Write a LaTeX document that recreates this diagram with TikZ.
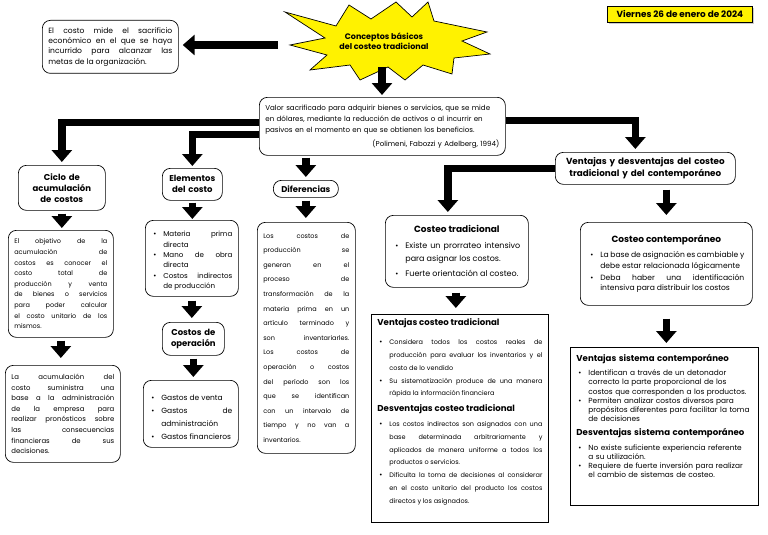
\documentclass[tikz,border=0pt]{standalone}
\usepackage{fontspec}
\setmainfont{Poppins}
\usetikzlibrary{arrows.meta,shadows}
\newcommand\myitem{\par\hangindent=12pt\hangafter=1\noindent\hbox to 12pt{\hskip2pt{\fontsize{7.4}{8}\selectfont\textbullet}\hfil}}
\newcommand\myhead[2]{\par\noindent\hbox{\bfseries\fontsize{#1}{11}\selectfont #2}\par}
\begin{document}
\begin{tikzpicture}[x=1pt,y=-1pt,
  every node/.style={inner sep=0pt},
  rbox/.style={draw, line width=0.7pt, rounded corners=8pt, anchor=north west, inner xsep=6pt, inner ysep=3pt, align=justify},
  sbox/.style={draw, line width=0.9pt, anchor=north west, inner xsep=6pt, inner ysep=3pt},
  ttl/.style={rbox, align=center, font=\bfseries\fontsize{8.5}{11}\selectfont},
  fat/.style={line width=7.5pt, line join=miter, -{Triangle[width=20pt,length=12pt]}}
]
\useasboundingbox (0,0) rectangle (768,535);

% date
\node[draw, fill=yellow, line width=0.8pt, anchor=north west, minimum width=145pt, minimum height=16pt,
  drop shadow={shadow xshift=1.2pt, shadow yshift=-1.2pt, opacity=0.4},
  font=\bfseries\fontsize{8.9}{10}\selectfont] (date) at (607,6) {Viernes 26 de enero de 2024};

% star
\draw[fill=yellow, line width=0.7pt] (285,12) -- (336,26) -- (349,5) -- (371,19) -- (396,2) -- (412,17)
  -- (428,2) -- (434,21) -- (487,32) -- (462,41) -- (490,54) -- (454,58) -- (452,74) -- (423,65)
  -- (405,80) -- (388,67) -- (360,80) -- (350,65) -- (310,70) -- (327,55) -- (290,45) -- (325,38) -- cycle;
\node[font=\bfseries\fontsize{8}{10.5}\selectfont, align=center] (star) at (384,41) {Conceptos básicos\\del costeo tradicional};
\coordinate (starL) at (278,45);
\coordinate (starB) at (382,67);

% left top
\node[rbox, text width=124pt, minimum height=53pt, font=\fontsize{7.6}{10.4}\selectfont] (costo) at (42,20)
  {El costo mide el sacrificio\linebreak económico en el que se haya\linebreak incurrido para alcanzar las\linebreak metas de la organización.};

% valor
\node[rbox, align=left, text width=234pt, minimum height=58pt, font=\fontsize{7.1}{11}\selectfont] (valor) at (259,97)
  {Valor sacrificado para adquirir bienes o servicios, que se mide\\en dólares, mediante la reducción de activos o al incurrir en\\pasivos en el momento en que se obtienen los beneficios.\\[3pt]\hfill(Polimeni, Fabozzi y Adelberg, 1994)};

% column 1
\node[ttl, text width=75pt, minimum height=45pt] (ciclo) at (18,165) {Ciclo de\\acumulación\\de costos};
\node[rbox, text width=93pt, minimum height=107pt, font=\fontsize{6.5}{10.6}\selectfont] (objetivo) at (8,230)
  {El objetivo de la\linebreak acumulación de\linebreak costos es conocer el\linebreak costo total de\linebreak producción y venta\linebreak de bienes o servicios\linebreak para poder calcular\linebreak el costo unitario de los\linebreak mismos.};
\node[rbox, text width=103pt, minimum height=97pt, font=\fontsize{6.9}{10.6}\selectfont] (acum) at (5,365)
  {La acumulación del\linebreak costo suministra una\linebreak base a la administración\linebreak de la empresa para\linebreak realizar pronósticos sobre\linebreak las consecuencias\linebreak financieras de sus\linebreak decisiones.};

% column 2
\node[ttl, text width=48pt, minimum height=32pt] (elem) at (162,168) {Elementos\\del costo};
\node[rbox, text width=81pt, minimum height=76pt, font=\fontsize{7.1}{10.4}\selectfont] (elist) at (145,220)
  {\myitem Materia prima\linebreak directa\myitem Mano de obra\linebreak directa\myitem Costos indirectos\linebreak de producción\par};
\node[ttl, text width=50pt, minimum height=33pt] (coper) at (162,322) {Costos de\\operación};
\node[rbox, text width=83pt, minimum height=67pt, font=\fontsize{7.5}{13}\selectfont] (gastos) at (143,380)
  {\myitem Gastos de venta\myitem Gastos de\linebreak administración\myitem Gastos financieros\par};

% column 3
\node[ttl, text width=53pt, minimum height=17pt, font=\bfseries\fontsize{8.4}{9}\selectfont] (dif) at (273,180) {Diferencias};
\node[rbox, text width=86pt, minimum height=231pt, font=\fontsize{6.5}{14.6}\selectfont] (loscostos) at (257,222)
  {Los costos de\linebreak producción se\linebreak generan en el\linebreak proceso de\linebreak transformación de la\linebreak materia prima en un\linebreak artículo terminado y\linebreak son inventariarles.\linebreak Los costos de\linebreak operación o costos\linebreak del período son los\linebreak que se identifican\linebreak con un intervalo de\linebreak tiempo y no van a\linebreak inventarios.};

% right top
\node[ttl, text width=168pt, minimum height=32pt, font=\bfseries\fontsize{8.8}{11.5}\selectfont] (vy) at (555,152)
  {Ventajas y desventajas del costeo\\tradicional y del contemporáneo};

% costeo tradicional
\node[rbox, text width=127pt, minimum height=72pt, inner xsep=8pt, font=\fontsize{8}{13}\selectfont] (ct) at (385,215)
  {\centerline{\bfseries\fontsize{9}{10}\selectfont Costeo tradicional}\vskip3pt
   \myitem Existe un prorrateo intensivo\linebreak para asignar los costos.\par\vskip2pt\myitem Fuerte orientación al costeo.\par};
\node[sbox, align=justify, text width=165pt, minimum height=208pt, font=\fontsize{6.5}{12.8}\selectfont] (vct) at (371,314)
  {\noindent\vbox to 201pt{\vskip1pt\myhead{8.6}{Ventajas costeo tradicional}\vskip6pt
   \myitem Considera todos los costos reales de\linebreak producción para evaluar los inventarios y el\linebreak costo de lo vendido
   \myitem Su sistematización produce de una manera\linebreak rápida la información financiera
   \par\vskip3pt\myhead{8.6}{Desventajas costeo tradicional}\vskip2pt
   \myitem Los costos indirectos son asignados con una\linebreak base determinada arbitrariamente y\linebreak aplicados de manera uniforme a todos los\linebreak productos o servicios.
   \myitem Dificulta la toma de decisiones al considerar\linebreak en el costo unitario del producto los costos\linebreak directos y los asignados.\par\vfil}};

% costeo contemporaneo
\node[rbox, text width=156pt, minimum height=83pt, inner xsep=8pt, font=\fontsize{7.6}{10.6}\selectfont] (cc) at (580,222)
  {\centerline{\bfseries\fontsize{9}{10}\selectfont Costeo contemporáneo}\vskip5pt
   \myitem La base de asignación es cambiable y\linebreak debe estar relacionada lógicamente\par\vskip1pt
   \myitem Deba haber una identificación\linebreak intensiva para distribuir los costos\par};
\node[sbox, align=left, text width=176pt, minimum height=158pt, font=\fontsize{7.4}{9.2}\selectfont] (vsc) at (570,347)
  {\noindent\vbox to 150pt{\vskip3pt\myhead{8.6}{Ventajas sistema contemporáneo}\vskip5pt
   \myitem Identifican a través de un detonador\linebreak correcto la parte proporcional de los\linebreak costos que corresponden a los productos.
   \myitem Permiten analizar costos diversos para\linebreak propósitos diferentes para facilitar la toma\linebreak de decisiones
   \par\vskip5pt\myhead{8.6}{Desventajas sistema contemporáneo}\vskip5pt
   \myitem No existe suficiente experiencia referente\linebreak a su utilización.
   \myitem Requiere de fuerte inversión para realizar\linebreak el cambio de sistemas de costeo.\par\vfil}};

% arrows
\draw[fat, shorten >=4pt] (starL) -- (starL -| costo.east);
\draw[fat, shorten >=2pt] (starB) -- (starB |- valor.north);
\draw[fat, shorten >=3pt] ([yshift=4pt]valor.west) -| (ciclo.north);
\draw[fat, shorten >=2pt] ([yshift=-8pt]valor.west) -| (elem.north);
\draw[fat, shorten <=2pt, shorten >=3pt] (dif.north |- valor.south) -- (dif.north);
\draw[fat, shorten >=3pt] ([yshift=6pt]valor.east) -| ([xshift=-10pt]vy.north);
\draw[fat, shorten >=3pt] (vy.west) -| ([xshift=-9pt]ct.north);
\draw[fat, shorten <=3pt, shorten >=2pt] (ciclo.south) -- (ciclo.south |- objetivo.north);
\draw[fat, shorten <=3pt, shorten >=7pt] (objetivo.south) -- (objetivo.south |- acum.north);
\draw[fat, shorten <=2pt, shorten >=1pt] (elem.south) -- (elem.south |- elist.north);
\draw[fat, shorten <=4pt, shorten >=4pt] (elist.south) -- (elist.south |- coper.north);
\draw[fat, shorten <=3pt, shorten >=3pt] (coper.south) -- (coper.south |- gastos.north);
\draw[fat, shorten <=3pt, shorten >=4pt] (dif.south) -- (dif.south |- loscostos.north);
\draw[fat, shorten <=5pt, shorten >=6pt] ([xshift=-1pt]ct.south) -- ([xshift=-1pt]ct.south |- vct.north);
\draw[fat, shorten <=5pt, shorten >=7pt] (cc.north |- vy.south) -- (cc.north);
\draw[fat, shorten <=13pt, shorten >=4pt] (cc.south) -- (cc.south |- vsc.north);
\end{tikzpicture}
\end{document}
